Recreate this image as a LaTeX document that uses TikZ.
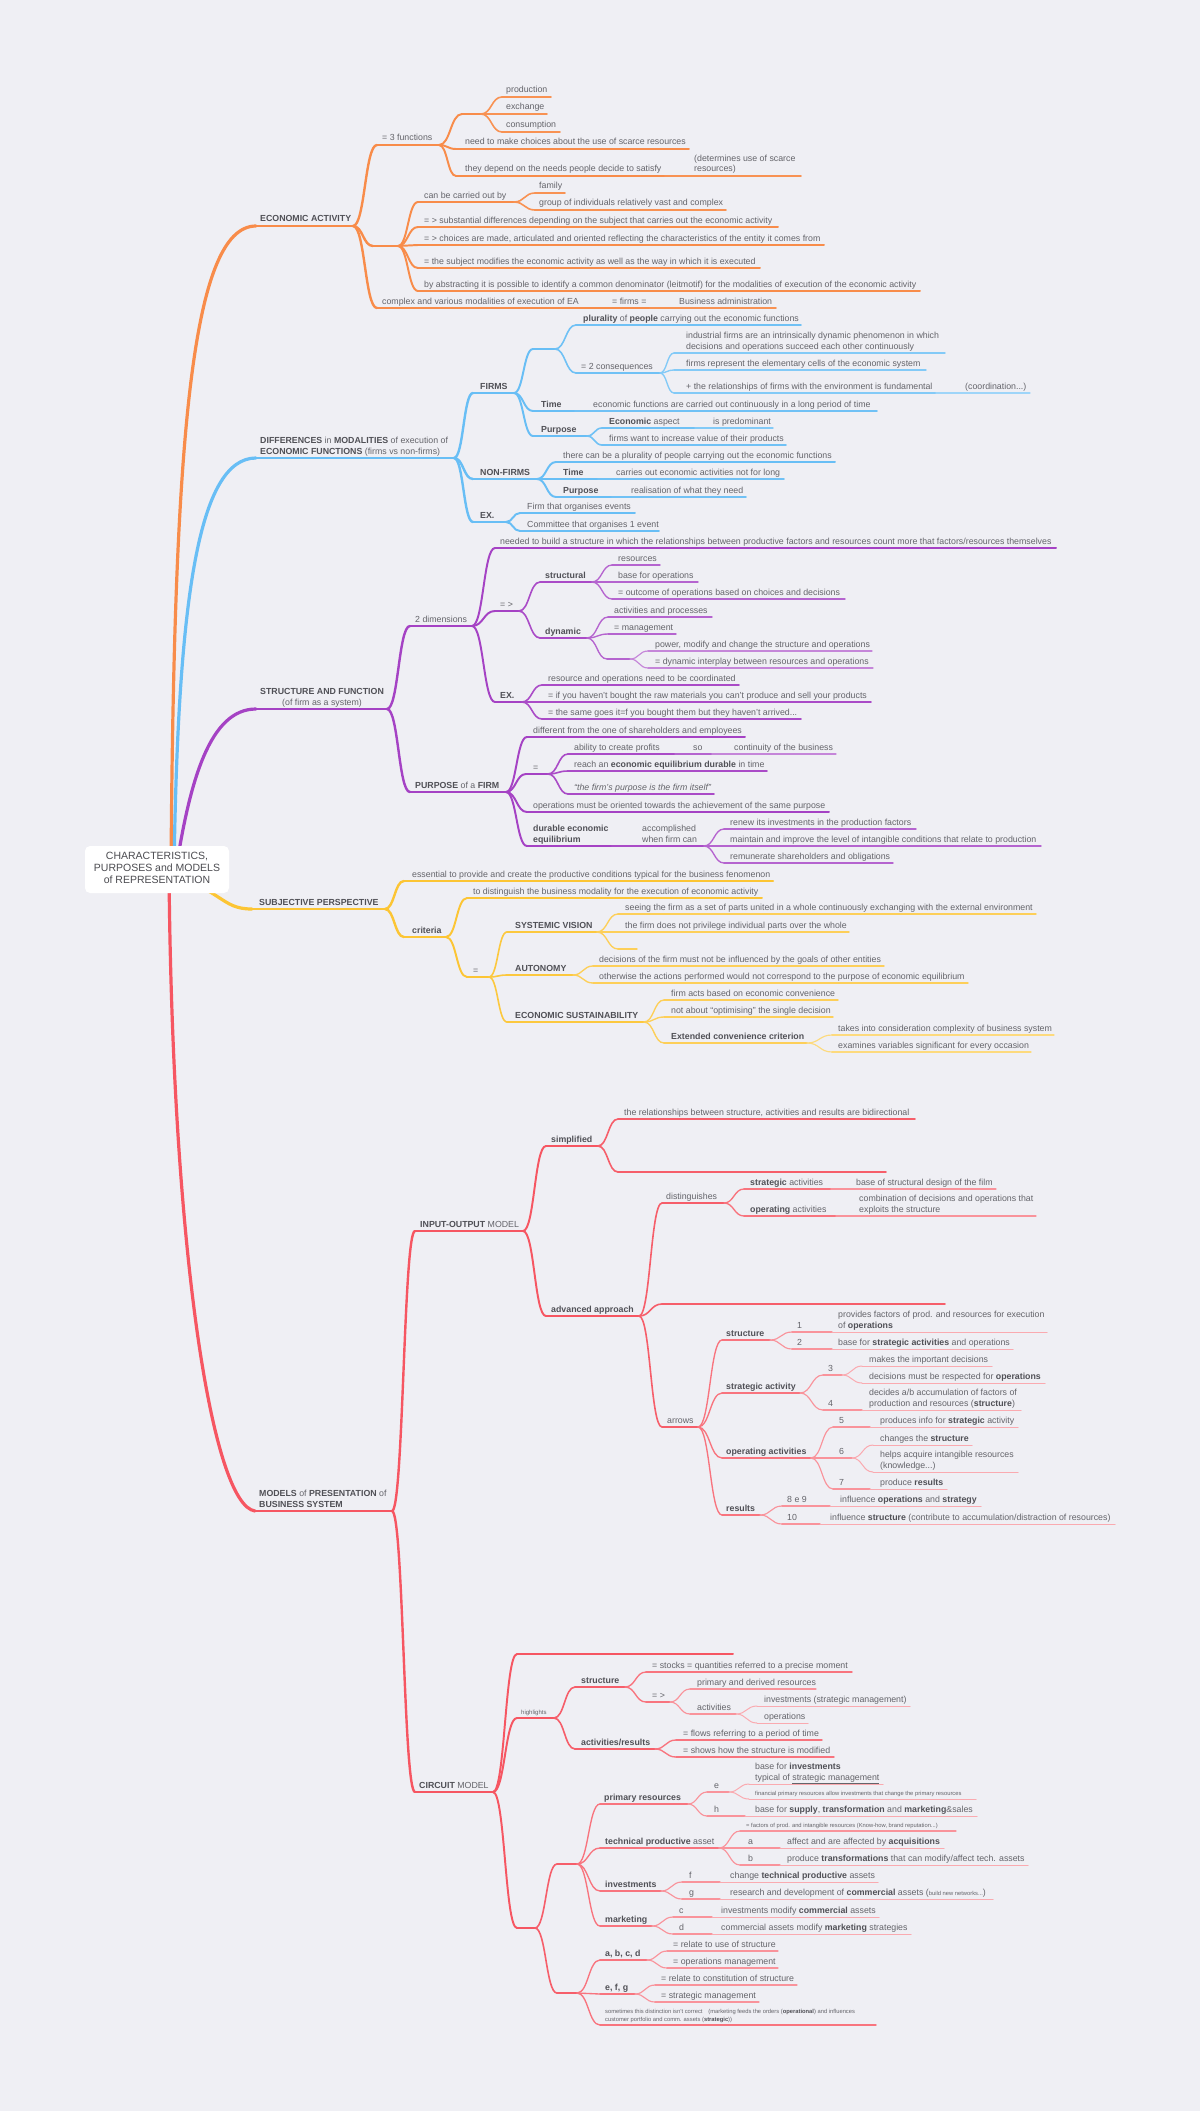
\documentclass[tikz,border=0pt]{standalone}
\usepackage{fontspec}
\setmainfont{Liberation Sans}
\usetikzlibrary{calc}
\definecolor{bgc}{RGB}{239,239,244}
\definecolor{brOr}{RGB}{248,140,74}
\definecolor{brBl}{RGB}{104,190,245}
\definecolor{brPu}{RGB}{165,66,196}
\definecolor{brYe}{RGB}{252,197,52}
\definecolor{brRe}{RGB}{246,86,98}
\definecolor{txtc}{RGB}{100,100,106}
\definecolor{txtb}{RGB}{80,80,86}
\definecolor{rootc}{RGB}{75,75,80}
\pgfdeclarelayer{bgl}\pgfdeclarelayer{back}\pgfsetlayers{bgl,back,main}
\newcommand\fs{\fontsize{8.8}{10.5}\selectfont}
\newcommand\smallt{\fontsize{5.8}{7.4}\selectfont}
\newcommand\bld[1]{{\bfseries\color{txtb}#1}}
\newcommand\twol[2]{\begin{tabular}[b]{@{}l@{}}#1\\#2\end{tabular}}
\newcommand\twoc[2]{\begin{tabular}[b]{@{}c@{}}#1\\#2\end{tabular}}
\tikzset{
 txt/.style={anchor=base west, inner sep=0pt, font=\fs, text=txtc},
 ln1/.style={draw=\bc, line width=2.9pt, line cap=round},
 ln2/.style={draw=\bc, line width=2.4pt, line cap=round},
 ln3/.style={draw=\bc, line width=1.95pt, line cap=round},
 ln4/.style={draw=\bc!95, line width=1.6pt, line cap=round},
 ln5/.style={draw=\bc!82, line width=1.35pt, line cap=round},
 ln6/.style={draw=\bc!64, line width=1.15pt, line cap=round},
 ln7/.style={draw=\bc!50, line width=1.0pt, line cap=round},
 mainbr/.style={draw=#1, line width=3.2pt, line cap=round},
 rootbox/.style={fill=white, rounded corners=5pt, minimum width=144pt, minimum height=47pt, inner sep=0pt, font=\fontsize{10.5}{12}\selectfont, text=rootc},
}
% #1 opts, #2 name, #3 level, #4 x1, #5 x2, #6 y, #7 text x, #8 text
\newcommand\mnode[8][]{%
 \draw[ln#3] (#4,#6) coordinate (#2-l) -- (#5,#6) coordinate (#2-r);
 \node[txt,#1] (#2) at (#7,#6-4) {#8};}
\newcommand\enode[5]{\draw[ln#2] (#3,#5) coordinate (#1-l) -- (#4,#5) coordinate (#1-r);}
\newcommand\conn[3]{\draw[ln#1] let \p1=(#2-r), \p2=(#3-l) in (\p1) .. controls ({(\x1+\x2)/2},\y1) and ({(\x1+\x2)/2},\y2) .. (\p2);}
\begin{document}
\begin{tikzpicture}[x=1pt,y=-1pt]
\useasboundingbox (0,0) rectangle (1200,2111);
\begin{pgfonlayer}{bgl}\fill[bgc] (0,0) rectangle (1200,2111);\end{pgfonlayer}
\node[rootbox] (root) at (157,869.5) {\begin{tabular}{@{}c@{}}CHARACTERISTICS,\\PURPOSES and MODELS\\of REPRESENTATION\end{tabular}};

% ================= ORANGE
\def\bc{brOr}
\mnode{ea}{1}{256}{353}{226}{260}{\bld{ECONOMIC ACTIVITY}}
\mnode{f3}{2}{377}{439}{145}{382}{= 3 functions}
\enode{e1}{3}{462}{481}{114}
\mnode{prod}{4}{502}{551}{97}{506}{production}
\mnode{exch}{4}{502}{547}{114}{506}{exchange}
\mnode{cons}{4}{502}{560}{132}{506}{consumption}
\mnode{need}{3}{456}{689}{149}{465}{need to make choices about the use of scarce resources}
\mnode{dep}{3}{456}{665}{176}{465}{they depend on the needs people decide to satisfy}
\mnode{det}{4}{665}{801}{176}{694}{\twol{(determines use of scarce}{resources)}}
\enode{e2}{2}{373}{398}{246}
\mnode{carr}{3}{418}{514}{202}{424}{can be carried out by}
\mnode{fam}{4}{535}{565}{193}{539}{family}
\mnode{grp}{4}{535}{726}{210}{539}{group of individuals relatively vast and complex}
\mnode{subs}{3}{418}{778}{227}{424}{= > substantial differences depending on the subject that carries out the economic activity}
\mnode{choi}{3}{418}{824}{245}{424}{= > choices are made, articulated and oriented reflecting the characteristics of the entity it comes from}
\mnode{subj}{3}{418}{760}{268}{424}{= the subject modifies the economic activity as well as the way in which it is executed}
\mnode{abst}{3}{418}{920}{291}{424}{by abstracting it is possible to identify a common denominator (leitmotif) for the modalities of execution of the economic activity}
\mnode{cplx}{2}{377}{583}{308}{382}{complex and various modalities of execution of EA}
\mnode{firms}{3}{583}{650}{308}{612}{= firms =}
\mnode{busa}{4}{650}{776}{308}{679}{Business administration}
\conn{2}{ea}{f3}\conn{2}{ea}{e2}\conn{2}{ea}{cplx}
\conn{3}{f3}{e1}\conn{3}{f3}{need}\conn{3}{f3}{dep}
\conn{4}{e1}{prod}\conn{4}{e1}{exch}\conn{4}{e1}{cons}\conn{4}{dep}{det}
\conn{3}{e2}{carr}\conn{3}{e2}{subs}\conn{3}{e2}{choi}\conn{3}{e2}{subj}\conn{3}{e2}{abst}
\conn{4}{carr}{fam}\conn{4}{carr}{grp}
\conn{3}{cplx}{firms}\conn{4}{firms}{busa}

% ================= BLUE
\def\bc{brBl}
\mnode{diff}{1}{256}{454}{458}{260}{\twol{\bld{DIFFERENCES} in \bld{MODALITIES} of execution of}{\bld{ECONOMIC FUNCTIONS} (firms vs non-firms)}}
\mnode{firm}{2}{473}{514}{393}{480}{\bld{FIRMS}}
\enode{e3}{3}{533}{555}{349}
\mnode{plur}{4}{576}{801}{325}{583}{\bld{plurality} of \bld{people} carrying out the economic functions}
\mnode{cons2}{4}{576}{660}{373}{581}{= 2 consequences}
\mnode{indu}{5}{674}{945}{353}{686}{\twol{industrial firms are an intrinsically dynamic phenomenon in which}{decisions and operations succeed each other continuously}}
\mnode{cell}{5}{674}{926}{370}{686}{firms represent the elementary cells of the economic system}
\mnode{rel}{5}{674}{936}{393}{686}{+ the relationships of firms with the environment is fundamental}
\mnode{coord}{6}{936}{1030}{393}{965}{(coordination...)}
\mnode{time}{3}{533}{575}{411}{541}{\bld{Time}}
\mnode{timec}{4}{575}{877}{411}{593}{economic functions are carried out continuously in a long period of time}
\mnode{purp}{3}{533}{587}{436}{541}{\bld{Purpose}}
\mnode{econ}{4}{602}{695}{428}{609}{\bld{Economic} aspect}
\mnode{pred}{5}{695}{773}{428}{713}{is predominant}
\mnode{want}{4}{602}{786}{445}{609}{firms want to increase value of their products}
\mnode{nonf}{2}{473}{537}{479}{480}{\bld{NON-FIRMS}}
\mnode{npl}{3}{556}{835}{462}{563}{there can be a plurality of people carrying out the economic functions}
\mnode{ntime}{3}{556}{598}{479}{563}{\bld{Time}}
\mnode{ntc}{4}{598}{784}{479}{616}{carries out economic activities not for long}
\mnode{npur}{3}{556}{612}{497}{563}{\bld{Purpose}}
\mnode{npc}{4}{612}{746}{497}{631}{realisation of what they need}
\mnode{exa}{2}{473}{506}{522}{480}{\bld{EX.}}
\mnode{fev}{3}{520}{635}{513}{527}{Firm that organises events}
\mnode{com}{3}{520}{659}{531}{527}{Committee that organises 1 event}
\conn{2}{diff}{firm}\conn{2}{diff}{nonf}\conn{2}{diff}{exa}
\conn{3}{firm}{e3}\conn{4}{e3}{plur}\conn{4}{e3}{cons2}
\conn{5}{cons2}{indu}\conn{5}{cons2}{cell}\conn{5}{cons2}{rel}\conn{6}{rel}{coord}
\conn{3}{firm}{time}\conn{4}{time}{timec}\conn{3}{firm}{purp}
\conn{4}{purp}{econ}\conn{5}{econ}{pred}\conn{4}{purp}{want}
\conn{3}{nonf}{npl}\conn{3}{nonf}{ntime}\conn{4}{ntime}{ntc}\conn{3}{nonf}{npur}\conn{4}{npur}{npc}
\conn{3}{exa}{fev}\conn{3}{exa}{com}

% ================= PURPLE
\def\bc{brPu}
\mnode{sf}{1}{256}{387}{709}{260}{\twoc{\bld{STRUCTURE AND FUNCTION}}{(of firm as a system)}}
\mnode{dim}{2}{410}{472}{626}{415}{2 dimensions}
\mnode{needb}{3}{495}{1056}{548}{500}{needed to build a structure in which the relationships between productive factors and resources count more that factors/resources themselves}
\mnode{imp}{3}{495}{519}{611}{500}{= >}
\mnode{strl}{4}{540}{592}{582}{545}{\bld{structural}}
\mnode{res}{5}{612}{660}{565}{618}{resources}
\mnode{bfo}{5}{612}{698}{582}{618}{base for operations}
\mnode{outc}{5}{612}{845}{599}{618}{= outcome of operations based on choices and decisions}
\mnode{dyn}{4}{540}{587}{638}{545}{\bld{dynamic}}
\mnode{actp}{5}{608}{712}{617}{614}{activities and processes}
\mnode{mgmt}{5}{608}{676}{634}{614}{= management}
\enode{e4}{5}{607}{630}{659}
\mnode{pow}{6}{648}{872}{651}{655}{power, modify and change the structure and operations}
\mnode{inter}{6}{648}{873}{668}{655}{= dynamic interplay between resources and operations}
\mnode{exb}{3}{495}{522}{702}{500}{\bld{EX.}}
\mnode{coo}{4}{542}{739}{685}{548}{resource and operations need to be coordinated}
\mnode{raw}{4}{542}{871}{702}{548}{= if you haven’t bought the raw materials you can’t produce and sell your products}
\mnode{same}{4}{542}{801}{719}{548}{= the same goes it=f you bought them but they haven’t arrived...}
\mnode{pof}{2}{410}{506}{792}{415}{\bld{PURPOSE} of a \bld{FIRM}}
\mnode{diffs}{3}{527}{745}{737}{533}{different from the one of shareholders and employees}
\mnode{eqa}{3}{526}{548}{774}{533}{=}
\mnode{abil}{4}{568}{675}{754}{574}{ability to create profits}
\mnode{sow}{5}{675}{712}{754}{693}{so}
\mnode{cont}{6}{712}{836}{754}{734}{continuity of the business}
\mnode{reach}{4}{568}{767}{771}{574}{reach an \bld{economic equilibrium durable} in time}
\mnode{itself}{4}{568}{714}{794}{574}{\itshape “the firm’s purpose is the firm itself”}
\mnode{oper}{3}{527}{829}{812}{533}{operations must be oriented towards the achievement of the same purpose}
\mnode{deq}{3}{527}{612}{846}{533}{\twol{\bld{durable economic}}{\bld{equilibrium}}}
\mnode{acc}{4}{612}{704}{846}{642}{\twol{accomplished}{when firm can}}
\mnode{ren}{5}{724}{916}{829}{730}{renew its investments in the production factors}
\mnode{mai}{5}{724}{1041}{846}{730}{maintain and improve the level of intangible conditions that relate to production}
\mnode{rem}{5}{724}{893}{863}{730}{remunerate shareholders and obligations}
\conn{2}{sf}{dim}\conn{2}{sf}{pof}
\conn{3}{dim}{needb}\conn{3}{dim}{imp}\conn{3}{dim}{exb}
\conn{4}{imp}{strl}\conn{4}{imp}{dyn}
\conn{5}{strl}{res}\conn{5}{strl}{bfo}\conn{5}{strl}{outc}
\conn{5}{dyn}{actp}\conn{5}{dyn}{mgmt}\conn{5}{dyn}{e4}
\conn{6}{e4}{pow}\conn{6}{e4}{inter}
\conn{4}{exb}{coo}\conn{4}{exb}{raw}\conn{4}{exb}{same}
\conn{3}{pof}{diffs}\conn{3}{pof}{eqa}\conn{3}{pof}{oper}\conn{3}{pof}{deq}
\conn{4}{eqa}{abil}\conn{5}{abil}{sow}\conn{6}{sow}{cont}\conn{4}{eqa}{reach}\conn{4}{eqa}{itself}
\conn{4}{deq}{acc}\conn{5}{acc}{ren}\conn{5}{acc}{mai}\conn{5}{acc}{rem}

% ================= YELLOW
\def\bc{brYe}
\mnode{sp}{1}{252}{385}{909}{259}{\bld{SUBJECTIVE PERSPECTIVE}}
\mnode{ess}{2}{404}{773}{881}{412}{essential to provide and create the productive conditions typical for the business fenomenon}
\mnode{crit}{2}{404}{446}{937}{412}{\bld{criteria}}
\mnode{dist}{3}{467}{762}{898}{473}{to distinguish the business modality for the execution of economic activity}
\mnode{eqb}{3}{467}{489}{977}{473}{=}
\mnode{sys}{4}{507}{597}{932}{515}{\bld{SYSTEMIC VISION}}
\mnode{see}{5}{618}{1036}{914}{625}{seeing the firm as a set of parts united in a whole continuously exchanging with the external environment}
\mnode{priv}{5}{618}{849}{932}{625}{the firm does not privilege individual parts over the whole}
\enode{e5}{5}{618}{637}{949}
\mnode{aut}{4}{507}{573}{975}{515}{\bld{AUTONOMY}}
\mnode{dec}{5}{593}{884}{966}{599}{decisions of the firm must not be influenced by the goals of other entities}
\mnode{oth}{5}{593}{968}{983}{599}{otherwise the actions performed would not correspond to the purpose of economic equilibrium}
\mnode{sus}{4}{507}{644}{1022}{515}{\bld{ECONOMIC SUSTAINABILITY}}
\mnode{fac}{5}{664}{838}{1000}{671}{firm acts based on economic convenience}
\mnode{opt}{5}{664}{833}{1017}{671}{not about “optimising” the single decision}
\mnode{ext}{5}{664}{807}{1043}{671}{\bld{Extended convenience criterion}}
\mnode{tak}{6}{832}{1054}{1035}{838}{takes into consideration complexity of business system}
\mnode{exm}{6}{832}{1031}{1052}{838}{examines variables significant for every occasion}
\conn{2}{sp}{ess}\conn{2}{sp}{crit}
\conn{3}{crit}{dist}\conn{3}{crit}{eqb}
\conn{4}{eqb}{sys}\conn{4}{eqb}{aut}\conn{4}{eqb}{sus}
\conn{5}{sys}{see}\conn{5}{sys}{priv}\conn{5}{sys}{e5}
\conn{5}{aut}{dec}\conn{5}{aut}{oth}
\conn{5}{sus}{fac}\conn{5}{sus}{opt}\conn{5}{sus}{ext}
\conn{6}{ext}{tak}\conn{6}{ext}{exm}

% ================= RED
\def\bc{brRe}
\mnode{mod}{1}{255}{392}{1511}{259}{\twol{\bld{MODELS} of \bld{PRESENTATION} of}{\bld{BUSINESS SYSTEM}}}
\mnode{io}{2}{415}{523}{1231}{420}{\bld{INPUT-OUTPUT} MODEL}
\mnode{simp}{3}{546}{598}{1146}{551}{\bld{simplified}}
\mnode{bidi}{4}{618}{915}{1119}{624}{the relationships between structure, activities and results are bidirectional}
\enode{e6}{4}{618}{886}{1172}
\mnode{adv}{3}{546}{639}{1316}{551}{\bld{advanced approach}}
\mnode{dis}{4}{662}{724}{1203}{666}{distinguishes}
\mnode{stra}{5}{744}{831}{1189}{750}{\bld{strategic} activities}
\mnode{sbase}{6}{831}{996}{1189}{856}{base of structural design of the film}
\mnode{opa}{5}{744}{836}{1216}{750}{\bld{operating} activities}
\mnode{comb}{6}{836}{1036}{1216}{859}{\twol{combination of decisions and operations that}{exploits the structure}}
\enode{e7}{4}{662}{945}{1304}
\mnode{arr}{4}{662}{698}{1427}{667}{arrows}
\mnode{st}{5}{722}{770}{1340}{726}{\bld{structure}}
\mnode{na1}{6}{792}{832}{1332}{797}{1}
\mnode{na1c}{7}{832}{1047}{1332}{838}{\twol{provides factors of prod. and resources for execution}{of \bld{operations}}}
\mnode{na2}{6}{792}{832}{1349}{797}{2}
\mnode{na2c}{7}{832}{1013}{1349}{838}{base for \bld{strategic activities} and operations}
\mnode{sa}{5}{722}{800}{1393}{726}{\bld{strategic activity}}
\mnode{na3}{6}{823}{842}{1375}{828}{3}
\mnode{mak}{7}{862}{992}{1366}{869}{makes the important decisions}
\mnode{resp}{7}{862}{1045}{1383}{869}{decisions must be respected for \bld{operations}}
\mnode{na4}{6}{823}{862}{1410}{828}{4}
\mnode{na4c}{7}{862}{1021}{1410}{869}{\twol{decides a/b accumulation of factors of}{production and resources (\bld{structure})}}
\mnode{oa}{5}{722}{811}{1458}{726}{\bld{operating activities}}
\mnode{na5}{6}{833}{870}{1427}{839}{5}
\mnode{na5c}{7}{870}{1018}{1427}{880}{produces info for \bld{strategic} activity}
\mnode{na6}{6}{833}{852}{1458}{839}{6}
\mnode{chg}{7}{873}{972}{1445}{880}{changes the \bld{structure}}
\mnode{help}{7}{873}{1018}{1472}{880}{\twol{helps acquire intangible resources}{(knowledge...)}}
\mnode{na7}{6}{833}{870}{1489}{839}{7}
\mnode{na7c}{7}{870}{947}{1489}{880}{produce \bld{results}}
\mnode{rs}{5}{722}{760}{1515}{726}{\bld{results}}
\mnode{na89}{6}{782}{830}{1506}{787}{8 e 9}
\mnode{na89c}{7}{830}{981}{1506}{840}{influence \bld{operations} and \bld{strategy}}
\mnode{na10}{6}{782}{820}{1524}{787}{10}
\mnode{na10c}{7}{820}{1115}{1524}{830}{influence \bld{structure} (contribute to accumulation/distraction of resources)}
\conn{2}{mod}{io}
\conn{3}{io}{simp}\conn{3}{io}{adv}
\conn{4}{simp}{bidi}\conn{4}{simp}{e6}
\conn{4}{adv}{dis}\conn{4}{adv}{e7}\conn{4}{adv}{arr}
\conn{5}{dis}{stra}\conn{6}{stra}{sbase}\conn{5}{dis}{opa}\conn{6}{opa}{comb}
\conn{5}{arr}{st}\conn{5}{arr}{sa}\conn{5}{arr}{oa}\conn{5}{arr}{rs}
\conn{6}{st}{na1}\conn{7}{na1}{na1c}\conn{6}{st}{na2}\conn{7}{na2}{na2c}
\conn{6}{sa}{na3}\conn{7}{na3}{mak}\conn{7}{na3}{resp}\conn{6}{sa}{na4}\conn{7}{na4}{na4c}
\conn{6}{oa}{na5}\conn{7}{na5}{na5c}\conn{6}{oa}{na6}\conn{7}{na6}{chg}\conn{7}{na6}{help}\conn{6}{oa}{na7}\conn{7}{na7}{na7c}
\conn{6}{rs}{na89}\conn{7}{na89}{na89c}\conn{6}{rs}{na10}\conn{7}{na10}{na10c}
% circuit
\mnode{cir}{2}{415}{493}{1792}{419}{\bld{CIRCUIT} MODEL}
\enode{e8}{3}{517}{733}{1654}
\mnode[font=\fontsize{6}{7}\selectfont]{hl}{3}{517}{554}{1718}{521}{highlights}
\mnode{cst}{4}{575}{625}{1687}{581}{\bld{structure}}
\mnode{stk}{5}{646}{852}{1672}{652}{= stocks = quantities referred to a precise moment}
\mnode{impc}{5}{646}{670}{1702}{652}{= >}
\mnode{prim}{6}{690}{816}{1689}{697}{primary and derived resources}
\mnode{acts}{6}{690}{736}{1714}{697}{activities}
\mnode{inv}{7}{757}{910}{1706}{764}{investments (strategic management)}
\mnode{ops}{7}{757}{808}{1723}{764}{operations}
\mnode{ar}{4}{575}{655}{1749}{581}{\bld{activities/results}}
\mnode{flo}{5}{676}{822}{1740}{683}{= flows referring to a period of time}
\mnode{sho}{5}{676}{834}{1757}{683}{= shows how the structure is modified}
\enode{e9}{3}{517}{535}{1928}
\enode{eA}{4}{557}{577}{1864}
\mnode{pr}{5}{600}{688}{1804}{604}{\bld{primary resources}}
\mnode{ne}{6}{707}{729}{1792}{714}{e}
\mnode{bfi}{7}{749}{883}{1784}{755}{\twol{base for \bld{investments}}{typical of \underline{strategic management}}}
\mnode[font=\smallt]{fin}{7}{749}{976}{1799}{755}{financial primary resources allow investments that change the primary resources}
\mnode{nh}{6}{707}{745}{1816}{714}{h}
\mnode{nhc}{7}{745}{977}{1816}{755}{base for \bld{supply}, \bld{transformation} and \bld{marketing}\&sales}
\mnode{tpa}{5}{600}{719}{1848}{605}{\bld{technical productive} asset}
\mnode[font=\smallt]{fpi}{6}{740}{956}{1831}{746}{= factors of prod. and intangible resources (Know-how, brand reputation...)}
\mnode{nla}{6}{719}{780}{1848}{748}{a}
\mnode{nlac}{7}{780}{944}{1848}{787}{affect and are affected by \bld{acquisitions}}
\mnode{nlb}{6}{740}{780}{1865}{748}{b}
\mnode{nlbc}{7}{780}{1028}{1865}{787}{produce \bld{transformations} that can modify/affect tech. assets}
\mnode{invs}{5}{600}{661}{1891}{605}{\bld{investments}}
\mnode{nlf}{6}{682}{720}{1882}{689}{f}
\mnode{nlfc}{7}{720}{878}{1882}{730}{change \bld{technical productive} assets}
\mnode{nlg}{6}{682}{720}{1899}{689}{g}
\mnode{nlgc}{7}{720}{993}{1899}{730}{research and development of \bld{commercial} assets ({\smallt build new networks...})}
\mnode{mkt}{5}{600}{652}{1926}{605}{\bld{marketing}}
\mnode{nlc}{6}{673}{712}{1917}{679}{c}
\mnode{nlcc}{7}{712}{879}{1917}{721}{investments modify \bld{commercial} assets}
\mnode{nld}{6}{673}{712}{1934}{679}{d}
\mnode{nldc}{7}{712}{911}{1934}{721}{commercial assets modify \bld{marketing} strategies}
\enode{eB}{4}{557}{577}{1993}
\mnode{abcd}{5}{600}{647}{1960}{605}{\bld{a, b, c, d}}
\mnode{rela}{6}{667}{778}{1951}{673}{= relate to use of structure}
\mnode{opm}{6}{667}{778}{1968}{673}{= operations management}
\mnode{efg}{5}{600}{635}{1994}{605}{\bld{e, f, g}}
\mnode{relb}{6}{655}{797}{1985}{661}{= relate to constitution of structure}
\mnode{stm}{6}{655}{759}{2002}{661}{= strategic management}
\mnode[font=\smallt]{some}{5}{600}{876}{2025}{605}{\twol{sometimes this distinction isn’t correct\quad(marketing feeds the orders (\bld{operational}) and influences}{customer portfolio and comm. assets (\bld{strategic}))}}
\conn{2}{mod}{cir}
\conn{3}{cir}{e8}\conn{3}{cir}{hl}\conn{3}{cir}{e9}
\conn{4}{hl}{cst}\conn{4}{hl}{ar}
\conn{5}{cst}{stk}\conn{5}{cst}{impc}\conn{6}{impc}{prim}\conn{6}{impc}{acts}
\conn{7}{acts}{inv}\conn{7}{acts}{ops}
\conn{5}{ar}{flo}\conn{5}{ar}{sho}
\conn{4}{e9}{eA}\conn{4}{e9}{eB}
\conn{5}{eA}{pr}\conn{5}{eA}{tpa}\conn{5}{eA}{invs}\conn{5}{eA}{mkt}
\conn{6}{pr}{ne}\conn{7}{ne}{bfi}\conn{7}{ne}{fin}\conn{6}{pr}{nh}\conn{7}{nh}{nhc}
\conn{6}{tpa}{fpi}\conn{6}{tpa}{nla}\conn{7}{nla}{nlac}\conn{6}{tpa}{nlb}\conn{7}{nlb}{nlbc}
\conn{6}{invs}{nlf}\conn{7}{nlf}{nlfc}\conn{6}{invs}{nlg}\conn{7}{nlg}{nlgc}
\conn{6}{mkt}{nlc}\conn{7}{nlc}{nlcc}\conn{6}{mkt}{nld}\conn{7}{nld}{nldc}
\conn{5}{eB}{abcd}\conn{5}{eB}{efg}\conn{5}{eB}{some}
\conn{6}{abcd}{rela}\conn{6}{abcd}{opm}\conn{6}{efg}{relb}\conn{6}{efg}{stm}

% ================= MAIN BRANCHES
\begin{pgfonlayer}{back}
\draw[mainbr=brOr] ([xshift=14pt]root.center) .. controls (174,450) and (190,226) .. (ea-l);
\draw[mainbr=brBl] ([xshift=17pt]root.center) .. controls (178,600) and (198,458) .. (diff-l);
\draw[mainbr=brPu] ([xshift=19pt]root.center) .. controls (190,780) and (210,709) .. (sf-l);
\draw[mainbr=brYe] (root.center) .. controls (225,890) and (220,909) .. (sp-l);
\draw[mainbr=brRe] ([xshift=12pt]root.center) .. controls (172,1250) and (212,1505) .. (mod-l);
\end{pgfonlayer}
\end{tikzpicture}
\end{document}
